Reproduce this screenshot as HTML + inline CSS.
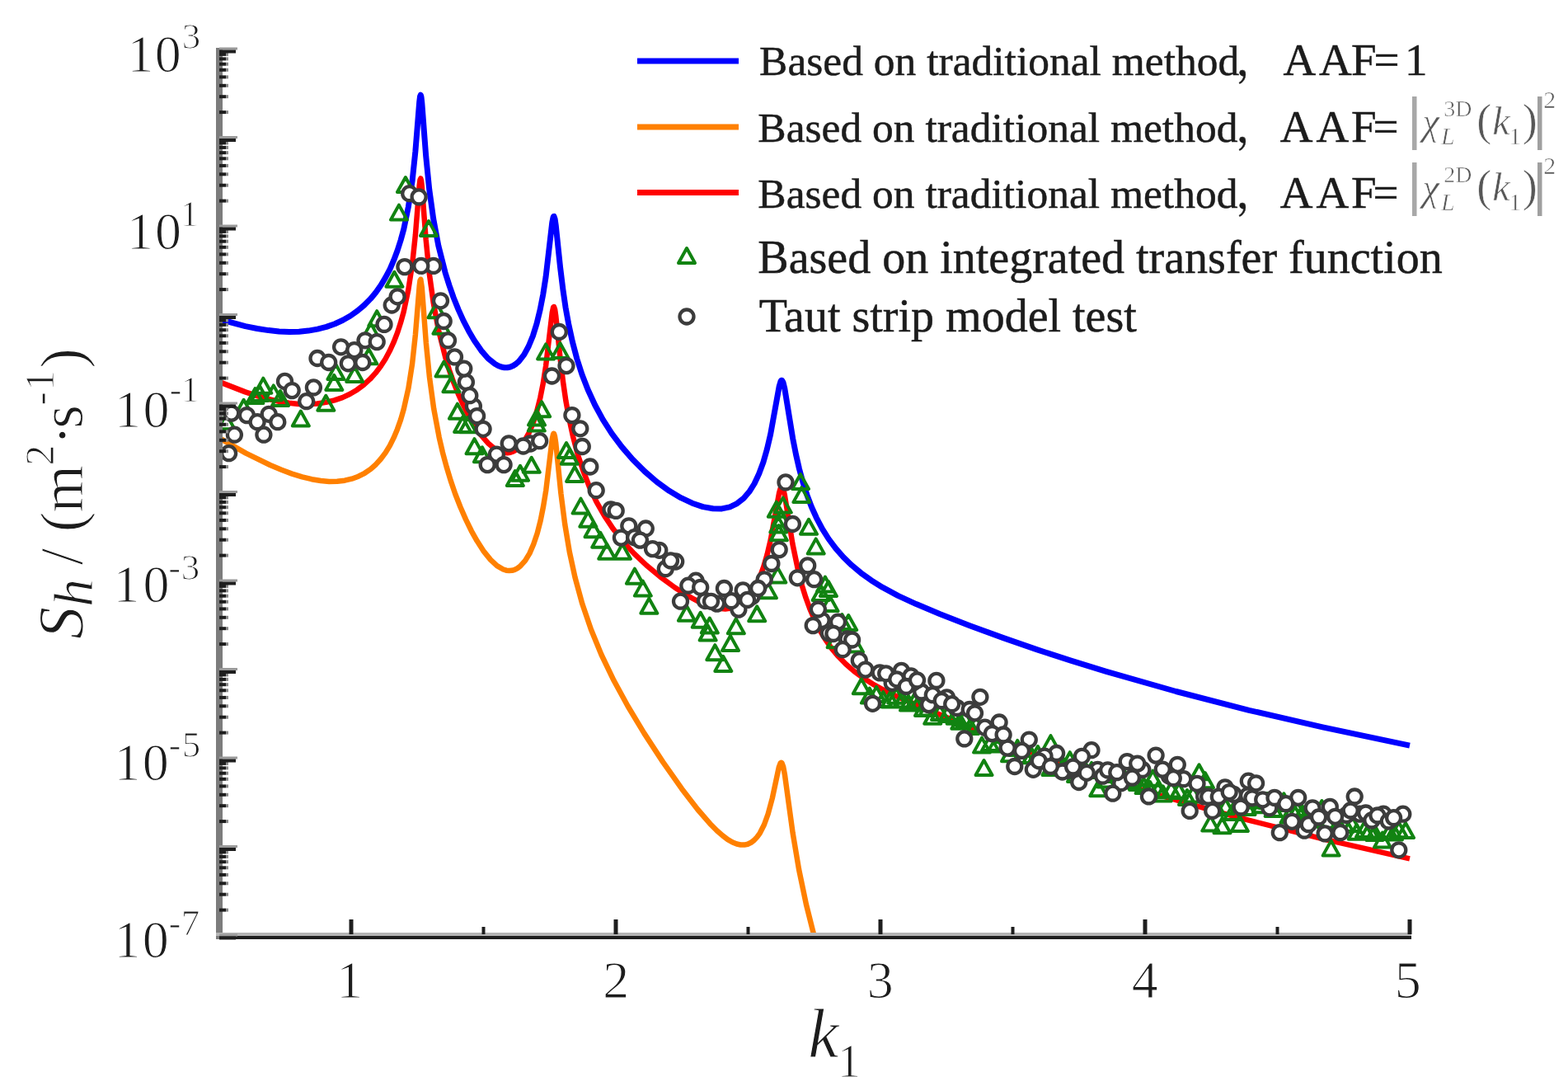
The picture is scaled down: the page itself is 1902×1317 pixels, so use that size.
<!DOCTYPE html><html><head><meta charset="utf-8"><style>html,body{margin:0;padding:0;background:#fff;}svg{display:block;filter:blur(0.7px);}text{font-family:"Liberation Serif","Noto Serif CJK SC",serif;fill:#1c1c1c;stroke:#fff;stroke-width:1.1px;} .lg text{stroke:#1c1c1c;stroke-width:0.5px;} .lg text.fm{stroke:#fff;stroke-width:0.6px;}</style></head><body>
<svg width="1902" height="1317" viewBox="0 0 1902 1317">
<rect width="1902" height="1317" fill="#fff"/>
<defs><clipPath id="pc"><rect x="262" y="40" width="1452" height="1095"/></clipPath></defs>
<g clip-path="url(#pc)" fill="none" stroke-linejoin="round" stroke-linecap="butt">
<path d="M265.5,530.9 298.3,549.6 327.7,564.0 341.4,569.8 354.3,574.6 366.6,578.4 378.2,581.2 389.1,583.0 399.3,583.9 409.0,583.8 418.1,582.7 426.7,580.7 434.8,577.7 442.4,573.8 449.6,568.9 456.0,563.2 462.0,556.5 467.7,548.9 472.9,540.4 477.6,530.9 482.0,520.4 486.1,508.9 489.7,496.4 495.4,470.9 500.1,441.0 503.9,405.8 508.7,347.0 509.5,340.5 510.3,338.8 511.8,348.7 516.8,415.6 521.0,457.6 526.2,495.7 532.7,530.4 536.9,548.6 541.6,566.0 546.7,582.9 552.3,599.2 558.5,615.0 565.0,629.9 571.8,643.8 578.7,656.1 587.0,668.9 595.1,678.9 602.9,686.1 610.4,690.5 614.1,691.7 617.6,692.1 621.1,691.8 624.4,690.8 627.7,689.1 631.0,686.7 637.1,679.9 642.4,671.1 647.2,660.0 651.7,646.7 655.7,631.1 659.1,614.0 662.3,594.4 669.8,532.3 671.0,526.9 671.5,525.8 672.0,525.9 673.0,529.2 674.2,537.1 680.4,598.3 685.2,635.6 690.8,669.2 697.5,700.1 706.3,732.3 716.9,763.3 729.5,794.0 744.6,825.3 761.5,856.3 781.3,889.1 804.0,923.9 827.1,956.7 846.2,981.5 862.6,1000.3 869.8,1007.5 876.6,1013.4 882.8,1018.1 888.7,1021.5 893.7,1023.5 898.4,1024.5 902.8,1024.6 907.0,1023.7 911.0,1021.8 914.8,1018.9 918.3,1015.1 921.8,1010.3 927.0,1000.0 931.7,987.0 936.8,968.0 944.8,930.5 946.7,925.4 947.6,924.7 948.4,925.2 950.1,929.7 951.9,939.3 961.6,1009.9 969.1,1054.5 977.9,1096.6 988.8,1140.0" stroke="#ff8000" stroke-width="6.5"/>
<path d="M265.5,387.0 297.6,395.6 312.0,398.5 325.7,400.6 338.6,402.0 351.0,402.5 362.7,402.2 374.0,401.1 385.2,399.1 395.9,396.4 406.2,392.7 415.9,388.3 425.1,383.0 433.7,376.9 441.9,370.0 449.4,362.4 456.0,354.4 462.1,345.8 467.7,336.4 473.0,326.3 477.7,315.4 482.1,303.7 486.1,291.2 489.8,277.7 495.4,250.6 500.1,219.6 503.9,183.4 508.7,123.8 509.5,117.1 510.3,115.2 511.0,117.7 511.8,124.8 516.7,189.4 520.7,229.5 525.7,265.4 531.8,297.8 540.1,330.7 545.0,346.1 550.2,361.0 556.0,375.4 562.1,388.9 568.6,401.4 575.2,412.7 583.7,425.1 592.1,434.7 600.3,441.3 604.2,443.5 608.1,445.0 611.8,445.7 615.5,445.7 619.0,445.0 622.5,443.5 626.0,441.2 629.3,438.3 635.7,430.1 641.2,420.0 646.4,407.4 651.0,392.6 655.2,375.4 658.8,356.8 662.1,335.6 669.8,269.7 671.0,263.8 671.5,262.5 672.0,262.4 673.1,265.6 674.3,273.8 679.5,323.7 682.9,351.2 686.0,372.6 689.6,392.4 694.4,414.5 699.8,435.0 706.0,454.3 713.0,472.3 721.6,491.0 731.3,508.9 742.2,525.8 754.2,541.9 767.5,557.3 781.8,571.5 796.7,584.3 811.8,595.3 825.9,603.7 839.7,610.2 852.7,614.6 864.8,616.8 875.6,616.9 885.3,614.8 894.1,610.6 902.1,604.2 908.9,596.3 915.1,586.5 920.7,574.5 925.9,560.5 930.4,544.8 934.6,526.9 945.2,468.5 946.9,462.7 947.7,461.4 948.5,461.2 950.0,463.8 951.8,471.1 961.7,531.9 965.5,551.1 969.5,568.6 974.0,585.1 979.0,600.4 984.4,614.7 990.3,627.8 997.3,641.1 1005.1,653.5 1013.6,664.9 1022.9,675.5 1033.1,685.4 1044.3,694.8 1056.7,703.7 1070.3,712.2 1089.2,722.3 1111.4,732.6 1140.4,744.7 1176.3,758.7 1217.1,773.6 1258.2,787.9 1299.0,801.2 1341.9,814.4 1426.6,838.5 1515.0,861.3 1604.4,881.9 1710.0,904.1" stroke="#0000ff" stroke-width="7"/>
<path d="M265.5,462.9 297.6,475.4 311.9,480.1 325.5,483.9 338.4,486.8 350.7,488.8 362.4,489.9 373.7,490.1 384.8,489.5 395.5,487.9 405.7,485.4 415.4,482.1 424.6,477.8 433.2,472.7 441.3,466.6 448.9,459.7 455.5,452.4 461.7,444.3 467.4,435.5 472.6,425.8 477.5,415.2 481.9,403.9 485.9,391.6 489.6,378.4 495.3,351.5 500.1,320.6 503.9,284.7 508.7,225.0 509.5,218.3 510.3,216.5 511.0,219.1 511.8,226.2 516.7,291.0 520.7,331.2 525.7,367.2 531.8,399.7 540.1,432.8 544.8,448.3 550.0,463.1 555.7,477.4 561.8,490.9 568.2,503.5 574.7,514.8 583.3,527.3 591.8,537.2 600.1,544.2 604.1,546.5 608.0,548.2 611.8,549.1 615.5,549.3 619.1,548.7 622.7,547.4 626.1,545.4 629.5,542.7 635.9,535.0 641.4,525.4 646.5,513.4 651.1,499.1 655.3,482.5 658.9,464.4 662.1,443.7 669.8,379.0 671.0,373.3 671.5,372.1 672.0,372.0 673.1,375.2 674.3,383.5 679.6,435.1 683.1,463.5 686.4,486.2 690.2,507.0 695.2,530.0 700.9,551.4 707.5,571.3 714.8,590.0 723.4,608.3 733.1,625.4 743.9,641.6 755.9,656.8 769.2,671.4 784.1,685.5 800.7,699.3 818.6,712.5 833.6,722.1 847.1,729.5 859.2,734.6 870.0,737.6 879.7,738.5 888.5,737.2 896.5,733.9 903.8,728.3 910.2,721.1 916.1,711.8 921.4,700.5 926.4,686.9 930.7,671.9 934.8,654.5 945.2,597.4 946.9,591.7 947.7,590.4 948.5,590.2 950.1,592.9 951.8,600.3 961.4,659.5 968.7,694.5 972.9,710.2 977.4,724.7 982.3,738.2 987.7,750.7 994.0,763.5 1001.0,775.2 1008.6,786.1 1016.9,796.1 1025.9,805.3 1035.8,813.9 1046.7,822.0 1058.7,829.6 1076.0,839.0 1096.7,848.6 1232.6,905.2 1279.6,923.5 1330.7,941.1 1371.0,953.7 1420.6,968.5 1469.0,982.3 1516.4,995.1 1604.6,1017.3 1710.0,1041.3" stroke="#ff0000" stroke-width="6.5"/>
</g>
<g fill="none" stroke="#118311" stroke-width="4" stroke-linejoin="round">
<path d="M1552.0,965.0 L1562.0,983.0 L1542.0,983.0 Z M1568.0,973.0 L1578.0,991.0 L1558.0,991.0 Z M1640.0,990.0 L1650.0,1008.0 L1630.0,1008.0 Z M1655.0,997.0 L1665.0,1015.0 L1645.0,1015.0 Z M1667.5,1000.9 L1677.5,1018.9 L1657.5,1018.9 Z M1685.0,1000.0 L1695.0,1018.0 L1675.0,1018.0 Z M1705.0,998.0 L1715.0,1016.0 L1695.0,1016.0 Z M1290.0,920.0 L1300.0,938.0 L1280.0,938.0 Z M1305.0,930.0 L1315.0,948.0 L1295.0,948.0 Z M1380.0,940.0 L1390.0,958.0 L1370.0,958.0 Z M1395.0,948.0 L1405.0,966.0 L1385.0,966.0 Z M1430.0,950.0 L1440.0,968.0 L1420.0,968.0 Z M1440.0,958.0 L1450.0,976.0 L1430.0,976.0 Z M1120.0,850.0 L1130.0,868.0 L1110.0,868.0 Z M1140.0,855.0 L1150.0,873.0 L1130.0,873.0 Z M1170.0,862.0 L1180.0,880.0 L1160.0,880.0 Z M315.0,468.0 L325.0,486.0 L305.0,486.0 Z M340.0,474.0 L350.0,492.0 L330.0,492.0 Z M319.3,458.7 L329.3,476.7 L309.3,476.7 Z M309.4,471.1 L319.4,489.1 L299.4,489.1 Z M331.8,467.4 L341.8,485.4 L321.8,485.4 Z M405.3,454.9 L415.3,472.9 L395.3,472.9 Z M364.8,498.5 L374.8,516.5 L354.8,516.5 Z M395.3,479.8 L405.3,497.8 L385.3,497.8 Z M295.6,484.8 L305.6,502.8 L285.6,502.8 Z M274.5,502.3 L284.5,520.3 L264.5,520.3 Z M430.2,445.0 L440.2,463.0 L420.2,463.0 Z M478.4,329.8 L488.4,347.8 L468.4,347.8 Z M529.5,367.2 L539.5,385.2 L519.5,385.2 Z M535.4,386.7 L545.4,404.7 L525.4,404.7 Z M457.2,377.2 L467.2,395.2 L447.2,395.2 Z M449.8,392.1 L459.8,410.1 L439.8,410.1 Z M447.3,423.3 L457.3,441.3 L437.3,441.3 Z M538.5,438.5 L548.5,456.5 L528.5,456.5 Z M407.4,442.0 L417.4,460.0 L397.4,460.0 Z M491.9,215.0 L501.9,233.0 L481.9,233.0 Z M483.9,248.6 L493.9,266.6 L473.9,266.6 Z M520.0,268.0 L530.0,286.0 L510.0,286.0 Z M547.4,457.3 L557.4,475.3 L537.4,475.3 Z M554.9,489.7 L564.9,507.7 L544.9,507.7 Z M561.1,505.9 L571.1,523.9 L551.1,523.9 Z M575.5,532.2 L585.5,550.2 L565.5,550.2 Z M662.1,417.4 L672.1,435.4 L652.1,435.4 Z M679.5,416.1 L689.5,434.1 L669.5,434.1 Z M657.1,487.2 L667.1,505.2 L647.1,505.2 Z M650.8,504.6 L660.8,522.6 L640.8,522.6 Z M687.0,537.0 L697.0,555.0 L677.0,555.0 Z M567.5,506.2 L577.5,524.2 L557.5,524.2 Z M584.9,542.3 L594.9,560.3 L574.9,560.3 Z M631.0,564.8 L641.0,582.8 L621.0,582.8 Z M624.8,571.0 L634.8,589.0 L614.8,589.0 Z M644.7,554.8 L654.7,572.8 L634.7,572.8 Z M651.0,497.5 L661.0,515.5 L641.0,515.5 Z M690.8,544.8 L700.8,562.8 L680.8,562.8 Z M697.1,566.0 L707.1,584.0 L687.1,584.0 Z M704.5,604.6 L714.5,622.6 L694.5,622.6 Z M713.3,620.8 L723.3,638.8 L703.3,638.8 Z M719.5,633.3 L729.5,651.3 L709.5,651.3 Z M728.2,645.8 L738.2,663.8 L718.2,663.8 Z M736.2,659.8 L746.2,677.8 L726.2,677.8 Z M754.9,659.8 L764.9,677.8 L744.9,677.8 Z M769.9,689.7 L779.9,707.7 L759.9,707.7 Z M779.8,704.6 L789.8,722.6 L769.8,722.6 Z M787.3,725.8 L797.3,743.8 L777.3,743.8 Z M832.9,734.7 L842.9,752.7 L822.9,752.7 Z M849.7,742.8 L859.7,760.8 L839.7,760.8 Z M860.8,749.5 L870.8,767.5 L850.8,767.5 Z M892.8,750.3 L902.8,768.3 L882.8,768.3 Z M918.2,735.3 L928.2,753.3 L908.2,753.3 Z M931.9,707.2 L941.9,725.2 L921.9,725.2 Z M943.3,688.4 L953.3,706.4 L933.3,706.4 Z M944.3,627.4 L954.3,645.4 L934.3,645.4 Z M941.8,608.7 L951.8,626.7 L931.8,626.7 Z M858.6,758.5 L868.6,776.5 L848.6,776.5 Z M886.0,771.0 L896.0,789.0 L876.0,789.0 Z M867.3,782.2 L877.3,800.2 L857.3,800.2 Z M877.3,795.9 L887.3,813.9 L867.3,813.9 Z M1006.5,723.0 L1016.5,741.0 L996.5,741.0 Z M995.6,710.0 L1005.6,728.0 L985.6,728.0 Z M971.0,575.0 L981.0,593.0 L961.0,593.0 Z M972.3,591.1 L982.3,609.1 L962.3,609.1 Z M949.8,603.6 L959.8,621.6 L939.8,621.6 Z M947.3,619.8 L957.3,637.8 L937.3,637.8 Z M981.0,629.8 L991.0,647.8 L971.0,647.8 Z M989.7,653.4 L999.7,671.4 L979.7,671.4 Z M944.8,637.2 L954.8,655.2 L934.8,655.2 Z M1000.9,699.5 L1010.9,717.5 L990.9,717.5 Z M1004.9,705.0 L1014.9,723.0 L994.9,723.0 Z M1013.6,767.3 L1023.6,785.3 L1003.6,785.3 Z M1044.8,823.3 L1054.8,841.3 L1034.8,841.3 Z M1054.8,834.6 L1064.8,852.6 L1044.8,852.6 Z M1094.6,839.5 L1104.6,857.5 L1084.6,857.5 Z M1109.2,841.5 L1119.2,859.5 L1099.2,859.5 Z M1079.7,839.5 L1089.7,857.5 L1069.7,857.5 Z M1131.2,859.7 L1141.2,877.7 L1121.2,877.7 Z M1158.6,859.7 L1168.6,877.7 L1148.6,877.7 Z M1191.0,894.6 L1201.0,912.6 L1181.0,912.6 Z M1193.5,922.0 L1203.5,940.0 L1183.5,940.0 Z M1215.9,882.1 L1225.9,900.1 L1205.9,900.1 Z M1274.5,892.1 L1284.5,910.1 L1264.5,910.1 Z M1243.3,907.1 L1253.3,925.1 L1233.3,925.1 Z M1274.5,922.0 L1284.5,940.0 L1264.5,940.0 Z M1297.8,912.2 L1307.8,930.2 L1287.8,930.2 Z M1315.8,923.4 L1325.8,941.4 L1305.8,941.4 Z M1332.3,947.2 L1342.3,965.2 L1322.3,965.2 Z M1359.8,927.3 L1369.8,945.3 L1349.8,945.3 Z M1398.4,934.7 L1408.4,952.7 L1388.4,952.7 Z M1420.8,948.4 L1430.8,966.4 L1410.8,966.4 Z M1410.8,953.4 L1420.8,971.4 L1400.8,971.4 Z M1454.5,927.3 L1464.5,945.3 L1444.5,945.3 Z M1468.2,989.6 L1478.2,1007.6 L1458.2,1007.6 Z M1486.6,969.0 L1496.6,987.0 L1476.6,987.0 Z M1461.9,937.2 L1471.9,955.2 L1451.9,955.2 Z M1557.3,962.3 L1567.3,980.3 L1547.3,980.3 Z M1563.5,979.7 L1573.5,997.7 L1553.5,997.7 Z M1579.7,977.2 L1589.7,995.2 L1569.7,995.2 Z M1603.4,971.0 L1613.4,989.0 L1593.4,989.0 Z M1614.6,1019.6 L1624.6,1037.6 L1604.6,1037.6 Z M1645.7,999.7 L1655.7,1017.7 L1635.7,1017.7 Z M1696.8,997.2 L1706.8,1015.2 L1686.8,1015.2 Z M1676.9,1009.6 L1686.9,1027.6 L1666.9,1027.6 Z M1529.8,967.3 L1539.8,985.3 L1519.8,985.3 Z M1482.5,992.2 L1492.5,1010.2 L1472.5,1010.2 Z M1021.4,745.0 L1031.4,763.0 L1011.4,763.0 Z M1029.2,746.0 L1039.2,764.0 L1019.2,764.0 Z M1037.0,772.6 L1047.0,790.6 L1027.0,790.6 Z M1063.1,832.9 L1073.1,850.9 L1053.1,850.9 Z M1071.4,839.1 L1081.4,857.1 L1061.4,857.1 Z M1087.2,834.8 L1097.2,852.8 L1077.2,852.8 Z M1101.9,843.6 L1111.9,861.6 L1091.9,861.6 Z M1114.6,843.4 L1124.6,861.4 L1104.6,861.4 Z M1125.6,849.6 L1135.6,867.6 L1115.6,867.6 Z M1149.3,857.1 L1159.3,875.1 L1139.3,875.1 Z M1164.3,865.7 L1174.3,883.7 L1154.3,883.7 Z M1177.0,872.1 L1187.0,890.1 L1167.0,890.1 Z M1184.0,869.2 L1194.0,887.2 L1174.0,887.2 Z M1201.0,892.1 L1211.0,910.1 L1191.0,910.1 Z M1208.4,893.6 L1218.4,911.6 L1198.4,911.6 Z M1225.0,905.3 L1235.0,923.3 L1215.0,923.3 Z M1234.2,897.9 L1244.2,915.9 L1224.2,915.9 Z M1251.1,907.2 L1261.1,925.2 L1241.1,925.2 Z M1258.9,905.0 L1268.9,923.0 L1248.9,923.0 Z M1266.7,913.2 L1276.7,931.2 L1256.7,931.2 Z M1282.2,914.6 L1292.2,932.6 L1272.2,932.6 Z M1310.4,926.1 L1320.4,944.1 L1300.4,944.1 Z M1324.1,924.9 L1334.1,942.9 L1314.1,942.9 Z M1341.5,936.4 L1351.5,954.4 L1331.5,954.4 Z M1350.6,930.0 L1360.6,948.0 L1340.6,948.0 Z M1366.5,937.6 L1376.5,955.6 L1356.5,955.6 Z M1373.3,936.0 L1383.3,954.0 L1363.3,954.0 Z M1387.5,944.1 L1397.5,962.1 L1377.5,962.1 Z M1404.6,949.0 L1414.6,967.0 L1394.6,967.0 Z M1447.2,954.4 L1457.2,972.4 L1437.2,972.4 Z M1475.3,970.4 L1485.3,988.4 L1465.3,988.4 Z M1495.2,975.9 L1505.2,993.9 L1485.2,993.9 Z M1503.9,989.9 L1513.9,1007.9 L1493.9,1007.9 Z M1512.5,970.1 L1522.5,988.1 L1502.5,988.1 Z M1521.2,961.5 L1531.2,979.5 L1511.2,979.5 Z M1537.2,962.1 L1547.2,980.1 L1527.2,980.1 Z M1544.6,972.0 L1554.6,990.0 L1534.6,990.0 Z M1573.8,973.0 L1583.8,991.0 L1563.8,991.0 Z M1587.6,974.6 L1597.6,992.6 L1577.6,992.6 Z M1595.5,984.2 L1605.5,1002.2 L1585.5,1002.2 Z M1609.0,985.7 L1619.0,1003.7 L1599.0,1003.7 Z M1623.1,990.3 L1633.1,1008.3 L1613.1,1008.3 Z M1631.5,990.9 L1641.5,1008.9 L1621.5,1008.9 Z M1661.2,997.5 L1671.2,1015.5 L1651.2,1015.5 Z M1690.9,1000.6 L1700.9,1018.6 L1680.9,1018.6 Z"/>
</g>
<g fill="#fff" stroke="#3c3c3c" stroke-width="4.3">
<circle cx="538.2" cy="389.5" r="8.5"/>
<circle cx="565.4" cy="463.4" r="8.5"/>
<circle cx="574.4" cy="492.6" r="8.5"/>
<circle cx="475.2" cy="370.0" r="8.5"/>
<circle cx="443.0" cy="412.8" r="8.5"/>
<circle cx="643.3" cy="538.0" r="8.5"/>
<circle cx="345.5" cy="462.4" r="8.5"/>
<circle cx="380.4" cy="469.9" r="8.5"/>
<circle cx="371.7" cy="486.7" r="8.5"/>
<circle cx="354.2" cy="473.6" r="8.5"/>
<circle cx="280.7" cy="501.1" r="8.5"/>
<circle cx="299.4" cy="503.6" r="8.5"/>
<circle cx="312.1" cy="511.7" r="8.5"/>
<circle cx="326.2" cy="502.3" r="8.5"/>
<circle cx="336.8" cy="511.7" r="8.5"/>
<circle cx="284.4" cy="527.2" r="8.5"/>
<circle cx="319.9" cy="527.2" r="8.5"/>
<circle cx="277.6" cy="549.7" r="8.5"/>
<circle cx="490.9" cy="323.6" r="8.5"/>
<circle cx="525.8" cy="322.4" r="8.5"/>
<circle cx="510.8" cy="322.4" r="8.5"/>
<circle cx="482.1" cy="359.8" r="8.5"/>
<circle cx="534.5" cy="364.8" r="8.5"/>
<circle cx="466.0" cy="393.4" r="8.5"/>
<circle cx="457.2" cy="414.6" r="8.5"/>
<circle cx="543.5" cy="412.9" r="8.5"/>
<circle cx="413.6" cy="420.8" r="8.5"/>
<circle cx="429.8" cy="424.6" r="8.5"/>
<circle cx="385.0" cy="434.5" r="8.5"/>
<circle cx="398.7" cy="439.5" r="8.5"/>
<circle cx="422.3" cy="440.8" r="8.5"/>
<circle cx="439.8" cy="439.5" r="8.5"/>
<circle cx="551.5" cy="432.9" r="8.5"/>
<circle cx="562.8" cy="447.1" r="8.5"/>
<circle cx="496.7" cy="234.7" r="8.5"/>
<circle cx="508.1" cy="238.9" r="8.5"/>
<circle cx="569.8" cy="479.7" r="8.5"/>
<circle cx="578.6" cy="504.6" r="8.5"/>
<circle cx="586.1" cy="520.3" r="8.5"/>
<circle cx="678.3" cy="402.5" r="8.5"/>
<circle cx="687.0" cy="443.6" r="8.5"/>
<circle cx="669.5" cy="456.0" r="8.5"/>
<circle cx="693.9" cy="503.6" r="8.5"/>
<circle cx="703.8" cy="519.8" r="8.5"/>
<circle cx="706.3" cy="541.5" r="8.5"/>
<circle cx="654.7" cy="534.7" r="8.5"/>
<circle cx="634.7" cy="541.0" r="8.5"/>
<circle cx="617.2" cy="537.8" r="8.5"/>
<circle cx="602.4" cy="551.1" r="8.5"/>
<circle cx="591.2" cy="563.6" r="8.5"/>
<circle cx="611.1" cy="563.6" r="8.5"/>
<circle cx="715.8" cy="566.0" r="8.5"/>
<circle cx="723.2" cy="594.7" r="8.5"/>
<circle cx="741.0" cy="617.9" r="8.5"/>
<circle cx="762.8" cy="637.8" r="8.5"/>
<circle cx="783.3" cy="641.0" r="8.5"/>
<circle cx="753.4" cy="652.1" r="8.5"/>
<circle cx="799.8" cy="667.3" r="8.5"/>
<circle cx="819.7" cy="681.0" r="8.5"/>
<circle cx="807.3" cy="689.7" r="8.5"/>
<circle cx="844.1" cy="704.2" r="8.5"/>
<circle cx="878.4" cy="713.5" r="8.5"/>
<circle cx="825.5" cy="729.2" r="8.5"/>
<circle cx="855.4" cy="728.5" r="8.5"/>
<circle cx="869.6" cy="732.1" r="8.5"/>
<circle cx="895.9" cy="739.1" r="8.5"/>
<circle cx="912.0" cy="723.5" r="8.5"/>
<circle cx="927.2" cy="702.8" r="8.5"/>
<circle cx="935.9" cy="683.5" r="8.5"/>
<circle cx="945.2" cy="666.6" r="8.5"/>
<circle cx="961.4" cy="635.5" r="8.5"/>
<circle cx="987.6" cy="702.7" r="8.5"/>
<circle cx="997.1" cy="752.3" r="8.5"/>
<circle cx="1016.5" cy="754.2" r="8.5"/>
<circle cx="1005.3" cy="767.9" r="8.5"/>
<circle cx="1028.0" cy="774.8" r="8.5"/>
<circle cx="953.0" cy="584.9" r="8.5"/>
<circle cx="979.7" cy="685.9" r="8.5"/>
<circle cx="967.3" cy="700.8" r="8.5"/>
<circle cx="901.2" cy="715.8" r="8.5"/>
<circle cx="986.2" cy="758.6" r="8.5"/>
<circle cx="1033.6" cy="776.0" r="8.5"/>
<circle cx="1042.3" cy="800.9" r="8.5"/>
<circle cx="1049.8" cy="812.1" r="8.5"/>
<circle cx="1067.2" cy="815.9" r="8.5"/>
<circle cx="1093.4" cy="813.4" r="8.5"/>
<circle cx="1082.2" cy="828.3" r="8.5"/>
<circle cx="1117.8" cy="839.0" r="8.5"/>
<circle cx="1135.9" cy="825.4" r="8.5"/>
<circle cx="1107.1" cy="828.3" r="8.5"/>
<circle cx="1058.5" cy="853.3" r="8.5"/>
<circle cx="1126.6" cy="854.6" r="8.5"/>
<circle cx="1148.5" cy="845.9" r="8.5"/>
<circle cx="1188.9" cy="845.3" r="8.5"/>
<circle cx="1160.9" cy="858.4" r="8.5"/>
<circle cx="1105.0" cy="819.9" r="8.5"/>
<circle cx="1212.1" cy="876.0" r="8.5"/>
<circle cx="1194.7" cy="882.2" r="8.5"/>
<circle cx="1169.8" cy="895.9" r="8.5"/>
<circle cx="1248.3" cy="897.1" r="8.5"/>
<circle cx="1222.1" cy="907.1" r="8.5"/>
<circle cx="1281.6" cy="913.5" r="8.5"/>
<circle cx="1324.0" cy="909.7" r="8.5"/>
<circle cx="1230.8" cy="929.5" r="8.5"/>
<circle cx="1253.3" cy="933.3" r="8.5"/>
<circle cx="1294.4" cy="934.5" r="8.5"/>
<circle cx="1331.4" cy="933.4" r="8.5"/>
<circle cx="1267.0" cy="917.1" r="8.5"/>
<circle cx="1312.4" cy="917.3" r="8.5"/>
<circle cx="1288.7" cy="936.0" r="8.5"/>
<circle cx="1308.7" cy="948.5" r="8.5"/>
<circle cx="1367.2" cy="923.6" r="8.5"/>
<circle cx="1402.1" cy="916.1" r="8.5"/>
<circle cx="1385.9" cy="933.5" r="8.5"/>
<circle cx="1359.8" cy="949.7" r="8.5"/>
<circle cx="1349.8" cy="962.2" r="8.5"/>
<circle cx="1393.4" cy="965.9" r="8.5"/>
<circle cx="1428.3" cy="927.3" r="8.5"/>
<circle cx="1418.3" cy="941.0" r="8.5"/>
<circle cx="1435.8" cy="944.7" r="8.5"/>
<circle cx="1460.7" cy="965.9" r="8.5"/>
<circle cx="1443.2" cy="983.4" r="8.5"/>
<circle cx="1470.7" cy="983.4" r="8.5"/>
<circle cx="1486.0" cy="954.8" r="8.5"/>
<circle cx="1496.5" cy="963.5" r="8.5"/>
<circle cx="1505.2" cy="979.0" r="8.5"/>
<circle cx="1514.3" cy="947.2" r="8.5"/>
<circle cx="1523.6" cy="949.8" r="8.5"/>
<circle cx="1513.6" cy="964.8" r="8.5"/>
<circle cx="1539.8" cy="979.8" r="8.5"/>
<circle cx="1574.7" cy="967.3" r="8.5"/>
<circle cx="1592.1" cy="979.8" r="8.5"/>
<circle cx="1643.2" cy="966.0" r="8.5"/>
<circle cx="1633.3" cy="988.5" r="8.5"/>
<circle cx="1649.5" cy="987.2" r="8.5"/>
<circle cx="1678.1" cy="987.2" r="8.5"/>
<circle cx="1701.8" cy="987.2" r="8.5"/>
<circle cx="1552.3" cy="1009.7" r="8.5"/>
<circle cx="1582.2" cy="1007.2" r="8.5"/>
<circle cx="1607.1" cy="1010.9" r="8.5"/>
<circle cx="1625.8" cy="1009.7" r="8.5"/>
<circle cx="1696.8" cy="1030.8" r="8.5"/>
<circle cx="992.4" cy="739.0" r="8.5"/>
<circle cx="1010.9" cy="768.5" r="8.5"/>
<circle cx="1022.2" cy="787.7" r="8.5"/>
<circle cx="1074.7" cy="816.8" r="8.5"/>
<circle cx="1087.8" cy="823.8" r="8.5"/>
<circle cx="1099.2" cy="832.5" r="8.5"/>
<circle cx="1112.5" cy="824.9" r="8.5"/>
<circle cx="1131.3" cy="842.7" r="8.5"/>
<circle cx="1142.2" cy="849.7" r="8.5"/>
<circle cx="1154.7" cy="853.7" r="8.5"/>
<circle cx="1176.2" cy="860.5" r="8.5"/>
<circle cx="1182.5" cy="864.8" r="8.5"/>
<circle cx="1203.4" cy="889.6" r="8.5"/>
<circle cx="1217.1" cy="891.0" r="8.5"/>
<circle cx="1239.5" cy="910.4" r="8.5"/>
<circle cx="1260.2" cy="922.8" r="8.5"/>
<circle cx="1274.3" cy="929.5" r="8.5"/>
<circle cx="1301.6" cy="930.0" r="8.5"/>
<circle cx="1318.2" cy="937.3" r="8.5"/>
<circle cx="1337.6" cy="941.2" r="8.5"/>
<circle cx="1343.7" cy="933.9" r="8.5"/>
<circle cx="1354.8" cy="936.7" r="8.5"/>
<circle cx="1373.4" cy="943.2" r="8.5"/>
<circle cx="1379.7" cy="926.1" r="8.5"/>
<circle cx="1410.2" cy="933.1" r="8.5"/>
<circle cx="1423.3" cy="943.7" r="8.5"/>
<circle cx="1452.0" cy="950.3" r="8.5"/>
<circle cx="1465.7" cy="966.2" r="8.5"/>
<circle cx="1478.3" cy="966.2" r="8.5"/>
<circle cx="1491.2" cy="960.6" r="8.5"/>
<circle cx="1518.9" cy="967.8" r="8.5"/>
<circle cx="1531.7" cy="969.8" r="8.5"/>
<circle cx="1546.0" cy="967.4" r="8.5"/>
<circle cx="1559.8" cy="974.7" r="8.5"/>
<circle cx="1567.2" cy="996.3" r="8.5"/>
<circle cx="1587.2" cy="999.7" r="8.5"/>
<circle cx="1599.6" cy="991.0" r="8.5"/>
<circle cx="1613.3" cy="978.4" r="8.5"/>
<circle cx="1619.6" cy="990.3" r="8.5"/>
<circle cx="1638.2" cy="983.0" r="8.5"/>
<circle cx="1656.7" cy="986.0" r="8.5"/>
<circle cx="1663.8" cy="995.0" r="8.5"/>
<circle cx="1670.9" cy="989.0" r="8.5"/>
<circle cx="1684.3" cy="996.0" r="8.5"/>
<circle cx="1690.6" cy="991.7" r="8.5"/>
<circle cx="747.2" cy="619.4" r="8.5"/>
<circle cx="769.6" cy="651.7" r="8.5"/>
<circle cx="776.4" cy="655.1" r="8.5"/>
<circle cx="791.5" cy="665.6" r="8.5"/>
<circle cx="813.5" cy="679.9" r="8.5"/>
<circle cx="834.8" cy="710.2" r="8.5"/>
<circle cx="849.7" cy="712.3" r="8.5"/>
<circle cx="862.5" cy="729.3" r="8.5"/>
<circle cx="887.1" cy="728.7" r="8.5"/>
<circle cx="906.6" cy="727.4" r="8.5"/>
<circle cx="919.6" cy="713.5" r="8.5"/>
</g>
<g>
<rect x="262" y="58" width="8" height="1081" fill="#7c7c7c"/>
<rect x="262" y="1131" width="1450" height="4" fill="#b4b4b4"/>
<rect x="266" y="1135" width="1446" height="4" fill="#1e1e1e"/>
<rect x="266" y="1132.5" width="22" height="3" fill="#9a9a9a"/>
<rect x="266" y="1135.5" width="20" height="4" fill="#1e1e1e"/>
<rect x="266" y="1101.6" width="8" height="4" fill="#1e1e1e"/><rect x="274" y="1101.6" width="3" height="4" fill="#8a8a8a"/>
<rect x="266" y="1082.7" width="8" height="4" fill="#1e1e1e"/><rect x="274" y="1082.7" width="3" height="4" fill="#8a8a8a"/>
<rect x="266" y="1069.3" width="8" height="4" fill="#1e1e1e"/><rect x="274" y="1069.3" width="3" height="4" fill="#8a8a8a"/>
<rect x="266" y="1058.9" width="8" height="4" fill="#1e1e1e"/><rect x="274" y="1058.9" width="3" height="4" fill="#8a8a8a"/>
<rect x="266" y="1050.3" width="8" height="4" fill="#1e1e1e"/><rect x="274" y="1050.3" width="3" height="4" fill="#8a8a8a"/>
<rect x="266" y="1043.2" width="8" height="4" fill="#1e1e1e"/><rect x="274" y="1043.2" width="3" height="4" fill="#8a8a8a"/>
<rect x="266" y="1036.9" width="8" height="4" fill="#1e1e1e"/><rect x="274" y="1036.9" width="3" height="4" fill="#8a8a8a"/>
<rect x="266" y="1031.4" width="8" height="4" fill="#1e1e1e"/><rect x="274" y="1031.4" width="3" height="4" fill="#8a8a8a"/>
<rect x="266" y="1025.0" width="22" height="3" fill="#9a9a9a"/>
<rect x="266" y="1028.0" width="20" height="4" fill="#1e1e1e"/>
<rect x="266" y="994.1" width="8" height="4" fill="#1e1e1e"/><rect x="274" y="994.1" width="3" height="4" fill="#8a8a8a"/>
<rect x="266" y="975.2" width="8" height="4" fill="#1e1e1e"/><rect x="274" y="975.2" width="3" height="4" fill="#8a8a8a"/>
<rect x="266" y="961.8" width="8" height="4" fill="#1e1e1e"/><rect x="274" y="961.8" width="3" height="4" fill="#8a8a8a"/>
<rect x="266" y="951.4" width="8" height="4" fill="#1e1e1e"/><rect x="274" y="951.4" width="3" height="4" fill="#8a8a8a"/>
<rect x="266" y="942.8" width="8" height="4" fill="#1e1e1e"/><rect x="274" y="942.8" width="3" height="4" fill="#8a8a8a"/>
<rect x="266" y="935.7" width="8" height="4" fill="#1e1e1e"/><rect x="274" y="935.7" width="3" height="4" fill="#8a8a8a"/>
<rect x="266" y="929.4" width="8" height="4" fill="#1e1e1e"/><rect x="274" y="929.4" width="3" height="4" fill="#8a8a8a"/>
<rect x="266" y="923.9" width="8" height="4" fill="#1e1e1e"/><rect x="274" y="923.9" width="3" height="4" fill="#8a8a8a"/>
<rect x="266" y="917.5" width="22" height="3" fill="#9a9a9a"/>
<rect x="266" y="920.5" width="20" height="4" fill="#1e1e1e"/>
<rect x="266" y="886.6" width="8" height="4" fill="#1e1e1e"/><rect x="274" y="886.6" width="3" height="4" fill="#8a8a8a"/>
<rect x="266" y="867.7" width="8" height="4" fill="#1e1e1e"/><rect x="274" y="867.7" width="3" height="4" fill="#8a8a8a"/>
<rect x="266" y="854.3" width="8" height="4" fill="#1e1e1e"/><rect x="274" y="854.3" width="3" height="4" fill="#8a8a8a"/>
<rect x="266" y="843.9" width="8" height="4" fill="#1e1e1e"/><rect x="274" y="843.9" width="3" height="4" fill="#8a8a8a"/>
<rect x="266" y="835.3" width="8" height="4" fill="#1e1e1e"/><rect x="274" y="835.3" width="3" height="4" fill="#8a8a8a"/>
<rect x="266" y="828.2" width="8" height="4" fill="#1e1e1e"/><rect x="274" y="828.2" width="3" height="4" fill="#8a8a8a"/>
<rect x="266" y="821.9" width="8" height="4" fill="#1e1e1e"/><rect x="274" y="821.9" width="3" height="4" fill="#8a8a8a"/>
<rect x="266" y="816.4" width="8" height="4" fill="#1e1e1e"/><rect x="274" y="816.4" width="3" height="4" fill="#8a8a8a"/>
<rect x="266" y="810.0" width="22" height="3" fill="#9a9a9a"/>
<rect x="266" y="813.0" width="20" height="4" fill="#1e1e1e"/>
<rect x="266" y="779.1" width="8" height="4" fill="#1e1e1e"/><rect x="274" y="779.1" width="3" height="4" fill="#8a8a8a"/>
<rect x="266" y="760.2" width="8" height="4" fill="#1e1e1e"/><rect x="274" y="760.2" width="3" height="4" fill="#8a8a8a"/>
<rect x="266" y="746.8" width="8" height="4" fill="#1e1e1e"/><rect x="274" y="746.8" width="3" height="4" fill="#8a8a8a"/>
<rect x="266" y="736.4" width="8" height="4" fill="#1e1e1e"/><rect x="274" y="736.4" width="3" height="4" fill="#8a8a8a"/>
<rect x="266" y="727.8" width="8" height="4" fill="#1e1e1e"/><rect x="274" y="727.8" width="3" height="4" fill="#8a8a8a"/>
<rect x="266" y="720.7" width="8" height="4" fill="#1e1e1e"/><rect x="274" y="720.7" width="3" height="4" fill="#8a8a8a"/>
<rect x="266" y="714.4" width="8" height="4" fill="#1e1e1e"/><rect x="274" y="714.4" width="3" height="4" fill="#8a8a8a"/>
<rect x="266" y="708.9" width="8" height="4" fill="#1e1e1e"/><rect x="274" y="708.9" width="3" height="4" fill="#8a8a8a"/>
<rect x="266" y="702.5" width="22" height="3" fill="#9a9a9a"/>
<rect x="266" y="705.5" width="20" height="4" fill="#1e1e1e"/>
<rect x="266" y="671.6" width="8" height="4" fill="#1e1e1e"/><rect x="274" y="671.6" width="3" height="4" fill="#8a8a8a"/>
<rect x="266" y="652.7" width="8" height="4" fill="#1e1e1e"/><rect x="274" y="652.7" width="3" height="4" fill="#8a8a8a"/>
<rect x="266" y="639.3" width="8" height="4" fill="#1e1e1e"/><rect x="274" y="639.3" width="3" height="4" fill="#8a8a8a"/>
<rect x="266" y="628.9" width="8" height="4" fill="#1e1e1e"/><rect x="274" y="628.9" width="3" height="4" fill="#8a8a8a"/>
<rect x="266" y="620.3" width="8" height="4" fill="#1e1e1e"/><rect x="274" y="620.3" width="3" height="4" fill="#8a8a8a"/>
<rect x="266" y="613.2" width="8" height="4" fill="#1e1e1e"/><rect x="274" y="613.2" width="3" height="4" fill="#8a8a8a"/>
<rect x="266" y="606.9" width="8" height="4" fill="#1e1e1e"/><rect x="274" y="606.9" width="3" height="4" fill="#8a8a8a"/>
<rect x="266" y="601.4" width="8" height="4" fill="#1e1e1e"/><rect x="274" y="601.4" width="3" height="4" fill="#8a8a8a"/>
<rect x="266" y="595.0" width="22" height="3" fill="#9a9a9a"/>
<rect x="266" y="598.0" width="20" height="4" fill="#1e1e1e"/>
<rect x="266" y="564.1" width="8" height="4" fill="#1e1e1e"/><rect x="274" y="564.1" width="3" height="4" fill="#8a8a8a"/>
<rect x="266" y="545.2" width="8" height="4" fill="#1e1e1e"/><rect x="274" y="545.2" width="3" height="4" fill="#8a8a8a"/>
<rect x="266" y="531.8" width="8" height="4" fill="#1e1e1e"/><rect x="274" y="531.8" width="3" height="4" fill="#8a8a8a"/>
<rect x="266" y="521.4" width="8" height="4" fill="#1e1e1e"/><rect x="274" y="521.4" width="3" height="4" fill="#8a8a8a"/>
<rect x="266" y="512.8" width="8" height="4" fill="#1e1e1e"/><rect x="274" y="512.8" width="3" height="4" fill="#8a8a8a"/>
<rect x="266" y="505.7" width="8" height="4" fill="#1e1e1e"/><rect x="274" y="505.7" width="3" height="4" fill="#8a8a8a"/>
<rect x="266" y="499.4" width="8" height="4" fill="#1e1e1e"/><rect x="274" y="499.4" width="3" height="4" fill="#8a8a8a"/>
<rect x="266" y="493.9" width="8" height="4" fill="#1e1e1e"/><rect x="274" y="493.9" width="3" height="4" fill="#8a8a8a"/>
<rect x="266" y="487.5" width="22" height="3" fill="#9a9a9a"/>
<rect x="266" y="490.5" width="20" height="4" fill="#1e1e1e"/>
<rect x="266" y="456.6" width="8" height="4" fill="#1e1e1e"/><rect x="274" y="456.6" width="3" height="4" fill="#8a8a8a"/>
<rect x="266" y="437.7" width="8" height="4" fill="#1e1e1e"/><rect x="274" y="437.7" width="3" height="4" fill="#8a8a8a"/>
<rect x="266" y="424.3" width="8" height="4" fill="#1e1e1e"/><rect x="274" y="424.3" width="3" height="4" fill="#8a8a8a"/>
<rect x="266" y="413.9" width="8" height="4" fill="#1e1e1e"/><rect x="274" y="413.9" width="3" height="4" fill="#8a8a8a"/>
<rect x="266" y="405.3" width="8" height="4" fill="#1e1e1e"/><rect x="274" y="405.3" width="3" height="4" fill="#8a8a8a"/>
<rect x="266" y="398.2" width="8" height="4" fill="#1e1e1e"/><rect x="274" y="398.2" width="3" height="4" fill="#8a8a8a"/>
<rect x="266" y="391.9" width="8" height="4" fill="#1e1e1e"/><rect x="274" y="391.9" width="3" height="4" fill="#8a8a8a"/>
<rect x="266" y="386.4" width="8" height="4" fill="#1e1e1e"/><rect x="274" y="386.4" width="3" height="4" fill="#8a8a8a"/>
<rect x="266" y="380.0" width="22" height="3" fill="#9a9a9a"/>
<rect x="266" y="383.0" width="20" height="4" fill="#1e1e1e"/>
<rect x="266" y="349.1" width="8" height="4" fill="#1e1e1e"/><rect x="274" y="349.1" width="3" height="4" fill="#8a8a8a"/>
<rect x="266" y="330.2" width="8" height="4" fill="#1e1e1e"/><rect x="274" y="330.2" width="3" height="4" fill="#8a8a8a"/>
<rect x="266" y="316.8" width="8" height="4" fill="#1e1e1e"/><rect x="274" y="316.8" width="3" height="4" fill="#8a8a8a"/>
<rect x="266" y="306.4" width="8" height="4" fill="#1e1e1e"/><rect x="274" y="306.4" width="3" height="4" fill="#8a8a8a"/>
<rect x="266" y="297.8" width="8" height="4" fill="#1e1e1e"/><rect x="274" y="297.8" width="3" height="4" fill="#8a8a8a"/>
<rect x="266" y="290.7" width="8" height="4" fill="#1e1e1e"/><rect x="274" y="290.7" width="3" height="4" fill="#8a8a8a"/>
<rect x="266" y="284.4" width="8" height="4" fill="#1e1e1e"/><rect x="274" y="284.4" width="3" height="4" fill="#8a8a8a"/>
<rect x="266" y="278.9" width="8" height="4" fill="#1e1e1e"/><rect x="274" y="278.9" width="3" height="4" fill="#8a8a8a"/>
<rect x="266" y="272.5" width="22" height="3" fill="#9a9a9a"/>
<rect x="266" y="275.5" width="20" height="4" fill="#1e1e1e"/>
<rect x="266" y="241.6" width="8" height="4" fill="#1e1e1e"/><rect x="274" y="241.6" width="3" height="4" fill="#8a8a8a"/>
<rect x="266" y="222.7" width="8" height="4" fill="#1e1e1e"/><rect x="274" y="222.7" width="3" height="4" fill="#8a8a8a"/>
<rect x="266" y="209.3" width="8" height="4" fill="#1e1e1e"/><rect x="274" y="209.3" width="3" height="4" fill="#8a8a8a"/>
<rect x="266" y="198.9" width="8" height="4" fill="#1e1e1e"/><rect x="274" y="198.9" width="3" height="4" fill="#8a8a8a"/>
<rect x="266" y="190.3" width="8" height="4" fill="#1e1e1e"/><rect x="274" y="190.3" width="3" height="4" fill="#8a8a8a"/>
<rect x="266" y="183.2" width="8" height="4" fill="#1e1e1e"/><rect x="274" y="183.2" width="3" height="4" fill="#8a8a8a"/>
<rect x="266" y="176.9" width="8" height="4" fill="#1e1e1e"/><rect x="274" y="176.9" width="3" height="4" fill="#8a8a8a"/>
<rect x="266" y="171.4" width="8" height="4" fill="#1e1e1e"/><rect x="274" y="171.4" width="3" height="4" fill="#8a8a8a"/>
<rect x="266" y="165.0" width="22" height="3" fill="#9a9a9a"/>
<rect x="266" y="168.0" width="20" height="4" fill="#1e1e1e"/>
<rect x="266" y="134.1" width="8" height="4" fill="#1e1e1e"/><rect x="274" y="134.1" width="3" height="4" fill="#8a8a8a"/>
<rect x="266" y="115.2" width="8" height="4" fill="#1e1e1e"/><rect x="274" y="115.2" width="3" height="4" fill="#8a8a8a"/>
<rect x="266" y="101.8" width="8" height="4" fill="#1e1e1e"/><rect x="274" y="101.8" width="3" height="4" fill="#8a8a8a"/>
<rect x="266" y="91.4" width="8" height="4" fill="#1e1e1e"/><rect x="274" y="91.4" width="3" height="4" fill="#8a8a8a"/>
<rect x="266" y="82.8" width="8" height="4" fill="#1e1e1e"/><rect x="274" y="82.8" width="3" height="4" fill="#8a8a8a"/>
<rect x="266" y="75.7" width="8" height="4" fill="#1e1e1e"/><rect x="274" y="75.7" width="3" height="4" fill="#8a8a8a"/>
<rect x="266" y="69.4" width="8" height="4" fill="#1e1e1e"/><rect x="274" y="69.4" width="3" height="4" fill="#8a8a8a"/>
<rect x="266" y="63.9" width="8" height="4" fill="#1e1e1e"/><rect x="274" y="63.9" width="3" height="4" fill="#8a8a8a"/>
<rect x="266" y="57.5" width="22" height="3" fill="#9a9a9a"/>
<rect x="266" y="60.5" width="20" height="4" fill="#1e1e1e"/>
<rect x="423.5" y="1115" width="5" height="18" fill="#1e1e1e"/>
<rect x="744.5" y="1115" width="5" height="18" fill="#1e1e1e"/>
<rect x="1065.5" y="1115" width="5" height="18" fill="#1e1e1e"/>
<rect x="1386.5" y="1115" width="5" height="18" fill="#1e1e1e"/>
<rect x="1707.5" y="1115" width="5" height="18" fill="#1e1e1e"/>
<rect x="584.5" y="1124" width="4" height="9" fill="#1e1e1e"/>
<rect x="905.5" y="1124" width="4" height="9" fill="#1e1e1e"/>
<rect x="1226.5" y="1124" width="4" height="9" fill="#1e1e1e"/>
<rect x="1547.5" y="1124" width="4" height="9" fill="#1e1e1e"/>
</g>
<text x="170.5" y="86.5" font-size="64" text-anchor="middle">1</text>
<text x="203.7" y="86.5" font-size="64" text-anchor="middle">0</text>
<text x="231.9" y="58.5" font-size="45" text-anchor="middle">3</text>
<text x="170.0" y="302.0" font-size="64" text-anchor="middle">1</text>
<text x="203.9" y="302.0" font-size="64" text-anchor="middle">0</text>
<text x="229.8" y="274.0" font-size="45" text-anchor="middle">1</text>
<text x="155.0" y="517.5" font-size="64" text-anchor="middle">1</text>
<text x="189.5" y="517.5" font-size="64" text-anchor="middle">0</text>
<text x="213.0" y="487.0" font-size="45" text-anchor="middle">-</text>
<text x="230.4" y="487.0" font-size="45" text-anchor="middle">1</text>
<text x="153.5" y="730.0" font-size="64" text-anchor="middle">1</text>
<text x="189.5" y="730.0" font-size="64" text-anchor="middle">0</text>
<text x="211.8" y="702.5" font-size="45" text-anchor="middle">-</text>
<text x="231.1" y="702.5" font-size="45" text-anchor="middle">3</text>
<text x="154.5" y="945.5" font-size="64" text-anchor="middle">1</text>
<text x="188.7" y="945.5" font-size="64" text-anchor="middle">0</text>
<text x="211.9" y="917.5" font-size="45" text-anchor="middle">-</text>
<text x="232.0" y="917.5" font-size="45" text-anchor="middle">5</text>
<text x="154.5" y="1161.0" font-size="64" text-anchor="middle">1</text>
<text x="188.7" y="1161.0" font-size="64" text-anchor="middle">0</text>
<text x="212.0" y="1134.0" font-size="45" text-anchor="middle">-</text>
<text x="231.0" y="1134.0" font-size="45" text-anchor="middle">7</text>
<text x="424.2" y="1209.5" font-size="64" text-anchor="middle">1</text>
<text x="747.2" y="1209.5" font-size="64" text-anchor="middle">2</text>
<text x="1067.7" y="1209.5" font-size="64" text-anchor="middle">3</text>
<text x="1388.7" y="1209.5" font-size="64" text-anchor="middle">4</text>
<text x="1707.7" y="1209.5" font-size="64" text-anchor="middle">5</text>
<text x="999.0" y="1281.5" font-size="84" text-anchor="middle" font-style="italic">k</text>
<text x="1030.0" y="1305.5" font-size="56" text-anchor="middle">1</text>
<g transform="translate(100,0) rotate(-90)">
<text x="-755.5" y="0.0" font-size="78" text-anchor="middle" font-style="italic">S</text>
<text x="-719.0" y="12.0" font-size="68" text-anchor="middle" font-style="italic">h</text>
<text x="-675.0" y="0.0" font-size="74" text-anchor="middle">/</text>
<text x="-633.0" y="0.0" font-size="74" text-anchor="middle">(</text>
<text x="-592.8" y="0.0" font-size="74" text-anchor="middle">m</text>
<text x="-552.0" y="-35.0" font-size="50" text-anchor="middle">2</text>
<text x="-527.6" y="0.0" font-size="74" text-anchor="middle">·</text>
<text x="-505.3" y="0.0" font-size="74" text-anchor="middle">s</text>
<text x="-483.5" y="-35.0" font-size="50" text-anchor="middle">-</text>
<text x="-461.5" y="-35.0" font-size="50" text-anchor="middle">1</text>
<text x="-434.5" y="0.0" font-size="74" text-anchor="middle">)</text>
</g>
<g stroke-width="7">
<line x1="773" y1="74" x2="896" y2="74" stroke="#0000ff"/>
<line x1="773" y1="154" x2="896" y2="154" stroke="#ff8000"/>
<line x1="773" y1="233.5" x2="896" y2="233.5" stroke="#ff0000"/>
</g>
<path d="M833.0,301.0 L843.0,319.0 L823.0,319.0 Z" fill="none" stroke="#118311" stroke-width="4" stroke-linejoin="round"/>
<circle cx="833" cy="384" r="8.5" fill="#fff" stroke="#3c3c3c" stroke-width="4.3"/>
<g class="lg">
<text x="921.1" y="91" font-size="51.5">Based on traditional method</text>
<text x="1525.0" y="91.0" font-size="52" text-anchor="middle" font-family='"Liberation Serif", "Noto Sans CJK SC", serif'>，</text>
<text x="919.3" y="171.5" font-size="51.5">Based on traditional method</text>
<text x="1525.0" y="171.5" font-size="52" text-anchor="middle" font-family='"Liberation Serif", "Noto Sans CJK SC", serif'>，</text>
<text x="919.3" y="251.5" font-size="51.5">Based on traditional method</text>
<text x="1525.0" y="251.5" font-size="52" text-anchor="middle" font-family='"Liberation Serif", "Noto Sans CJK SC", serif'>，</text>
<text x="1556.5" y="91" font-size="55">A</text>
<text x="1600.0" y="91" font-size="55">A</text>
<text x="1639.0" y="91" font-size="55">F</text>
<text x="1666.5" y="91" font-size="55">=</text>
<text x="1704.0" y="91" font-size="55">1</text>
<text x="1552.8" y="171.5" font-size="55">A</text>
<text x="1596.4" y="171.5" font-size="55">A</text>
<text x="1639.0" y="171.5" font-size="55">F</text>
<text x="1665.6" y="171.5" font-size="55">=</text>
<text x="1552.8" y="251.5" font-size="55">A</text>
<text x="1596.4" y="251.5" font-size="55">A</text>
<text x="1639.0" y="251.5" font-size="55">F</text>
<text x="1665.6" y="251.5" font-size="55">=</text>
<rect x="1713" y="117" width="5.5" height="65" fill="#a8a8a8"/>
<rect x="1865" y="117" width="5.5" height="65" fill="#a0a0a0"/>
<text x="1735.7" y="163.0" font-size="46" text-anchor="middle" font-style="italic" style="fill:#575757" class="fm">χ</text>
<text x="1768.4" y="141" font-size="28" text-anchor="middle" style="fill:#575757" class="fm">3D</text>
<text x="1756.3" y="175.0" font-size="30" text-anchor="middle" font-style="italic" style="fill:#575757" class="fm">L</text>
<text x="1800.3" y="164.0" font-size="54" text-anchor="middle" style="fill:#575757" class="fm">(</text>
<text x="1821.0" y="163.0" font-size="48" text-anchor="middle" font-style="italic" style="fill:#575757" class="fm">k</text>
<text x="1837.7" y="175.0" font-size="30" text-anchor="middle" style="fill:#575757" class="fm">1</text>
<text x="1855.8" y="164.0" font-size="54" text-anchor="middle" style="fill:#575757" class="fm">)</text>
<text x="1879.7" y="130.5" font-size="30" text-anchor="middle" style="fill:#575757" class="fm">2</text>
<rect x="1713" y="197" width="5.5" height="65" fill="#a8a8a8"/>
<rect x="1865" y="197" width="5.5" height="65" fill="#a0a0a0"/>
<text x="1735.7" y="243.0" font-size="46" text-anchor="middle" font-style="italic" style="fill:#575757" class="fm">χ</text>
<text x="1768.4" y="221" font-size="28" text-anchor="middle" style="fill:#575757" class="fm">2D</text>
<text x="1756.3" y="255.0" font-size="30" text-anchor="middle" font-style="italic" style="fill:#575757" class="fm">L</text>
<text x="1800.3" y="244.0" font-size="54" text-anchor="middle" style="fill:#575757" class="fm">(</text>
<text x="1821.0" y="243.0" font-size="48" text-anchor="middle" font-style="italic" style="fill:#575757" class="fm">k</text>
<text x="1837.7" y="255.0" font-size="30" text-anchor="middle" style="fill:#575757" class="fm">1</text>
<text x="1855.8" y="244.0" font-size="54" text-anchor="middle" style="fill:#575757" class="fm">)</text>
<text x="1879.7" y="210.5" font-size="30" text-anchor="middle" style="fill:#575757" class="fm">2</text>
<text x="919.3" y="331" font-size="56">Based on integrated transfer function</text>
<text x="920.8" y="402" font-size="56">Taut strip model test</text>
</g>
</svg></body></html>
